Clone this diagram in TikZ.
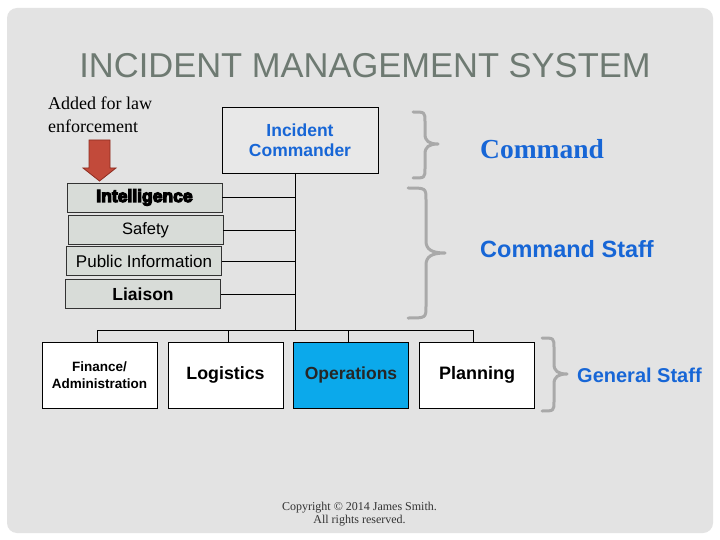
\documentclass[tikz,border=0pt]{standalone}
\usepackage{fontspec}
\setmainfont{Liberation Serif}
\setsansfont{Liberation Sans}
\newfontfamily\arialheavy[FakeBold=7]{Liberation Sans Bold}
\definecolor{slidebg}{HTML}{E3E3E3}
\definecolor{titlegray}{HTML}{6E7A72}
\definecolor{txtblue}{HTML}{1766D6}
\definecolor{staffill}{HTML}{D8DCD8}
\definecolor{icfill}{HTML}{E8E8E8}
\definecolor{opsblue}{HTML}{0BA9EB}
\definecolor{bracegray}{HTML}{A9A9A9}
\definecolor{arrowred}{HTML}{C24A3A}
\definecolor{arrowedge}{HTML}{8E2C20}
\newcommand\slidebrace[7]{% x0, xv, xt, ytop, ymid, ybot, r
  \draw[bracestyle] (#1,#4) .. controls (#2,#4) .. (#2,#4+#7) -- (#2,#5-#7)
    .. controls (#2,#5-0.3*#7) and (#2+0.3*#3-0.3*#2,#5) .. (#3,#5)
    .. controls (#2+0.3*#3-0.3*#2,#5) and (#2,#5+0.3*#7) .. (#2,#5+#7)
    -- (#2,#6-#7) .. controls (#2,#6) .. (#1,#6);}
\begin{document}
\begin{tikzpicture}[x=1pt,y=-1pt,
  staffbox/.style={draw=black!80,line width=0.8pt,fill=staffill,minimum width=155pt,minimum height=29pt,inner sep=0pt,font=\sffamily},
  genbox/.style={draw=black,line width=0.8pt,fill=white,minimum width=115pt,minimum height=66pt,inner sep=0pt,font=\sffamily,align=center},
  conn/.style={draw=black,line width=0.7pt},
  bracestyle/.style={draw=bracegray,line width=3pt,line cap=round,line join=round},
  lbl/.style={text=txtblue,anchor=west,inner sep=0pt}]
\useasboundingbox (0,0) rectangle (720,540);
\fill[white] (0,0) rectangle (720,540);
\fill[slidebg,rounded corners=10pt] (7,8) rectangle (713,533);
% title
\node[text=titlegray,font=\sffamily\fontsize{34.5}{38}\selectfont] (title) at (365,66) {INCIDENT MANAGEMENT SYSTEM};
% note
\node[anchor=base west,inner sep=0pt,font=\fontsize{18}{23}\selectfont] (note1) at (48,110) {Added for law};
\node[anchor=base west,inner sep=0pt,font=\fontsize{18}{23}\selectfont] (note2) at (48,133) {enforcement};
% red arrow
\filldraw[fill=arrowred,draw=arrowedge,line width=0.8pt] (89,140) -- (110,140) -- (110,168) -- (116,168) -- (99.5,181) -- (83,168) -- (89,168) -- cycle;
% incident commander
\node[draw=black,line width=0.8pt,fill=icfill,minimum width=156pt,minimum height=66pt,inner sep=0pt,align=center,text=txtblue,font=\sffamily\bfseries\fontsize{17.5}{20}\selectfont] (ic) at (300,140) {Incident\\Commander};
% staff
\node[staffbox,font=\arialheavy\fontsize{17.5}{20}\selectfont] (intel) at (144.5,197.5) {Intelligence};
\node[staffbox,font=\sffamily\fontsize{16.5}{19}\selectfont] (safety) at (145.5,230) {Safety};
\node[staffbox,font=\sffamily\fontsize{17}{20}\selectfont] (pubinfo) at (144,261) {Public Information};
\node[staffbox,font=\sffamily\bfseries\fontsize{17.5}{20}\selectfont] (liaison) at (143,294) {Liaison};
\coordinate (trunk) at (295,173);
\coordinate (bar) at (295,330);
\draw[conn] (trunk) -- (bar);
\foreach \n in {intel,safety,pubinfo,liaison}{
  \draw[conn] (\n.east) -- (\n.east -| trunk);
}
% general staff
\node[genbox,font=\sffamily\bfseries\fontsize{13.5}{17}\selectfont] (fin) at (99.5,375) {Finance/\\Administration};
\node[genbox,font=\sffamily\bfseries\fontsize{17.8}{20}\selectfont] (log) at (225.5,375) {Logistics};
\node[genbox,fill=opsblue,text=black!85,font=\sffamily\bfseries\fontsize{17.5}{20}\selectfont] (ops) at (351,375) {Operations};
\node[genbox,font=\sffamily\bfseries\fontsize{18}{20}\selectfont] (plan) at (477,375) {Planning};
\draw[conn] ([xshift=-2.5pt]fin.north) |- (bar);
\draw[conn] ([xshift=2.5pt]log.north) -- ([xshift=2.5pt]log.north |- bar);
\draw[conn] ([xshift=-3pt]ops.north) -- ([xshift=-3pt]ops.north |- bar);
\draw[conn] ([xshift=-4pt]plan.north) |- (bar);
% braces
\slidebrace{413}{425}{438}{112}{144}{178}{10}
\slidebrace{408}{426}{445}{188}{253}{318}{12}
\slidebrace{542}{554}{567}{338}{374}{411}{10}
% labels
\node[lbl,font=\bfseries\fontsize{27.5}{30}\selectfont] (cmd) at (480,149) {Command};
\node[lbl,font=\sffamily\bfseries\fontsize{23.5}{27}\selectfont] (cmdstaff) at (480,249) {Command Staff};
\node[lbl,font=\sffamily\bfseries\fontsize{20}{24}\selectfont] (genstaff) at (577,375) {General Staff};
% copyright
\node[align=center,inner sep=0pt,text=black!80,font=\fontsize{12}{13}\selectfont] (copy) at (359.5,514) {Copyright \textcopyright{} 2014 James Smith.\\All rights reserved.};
\end{tikzpicture}
\end{document}
